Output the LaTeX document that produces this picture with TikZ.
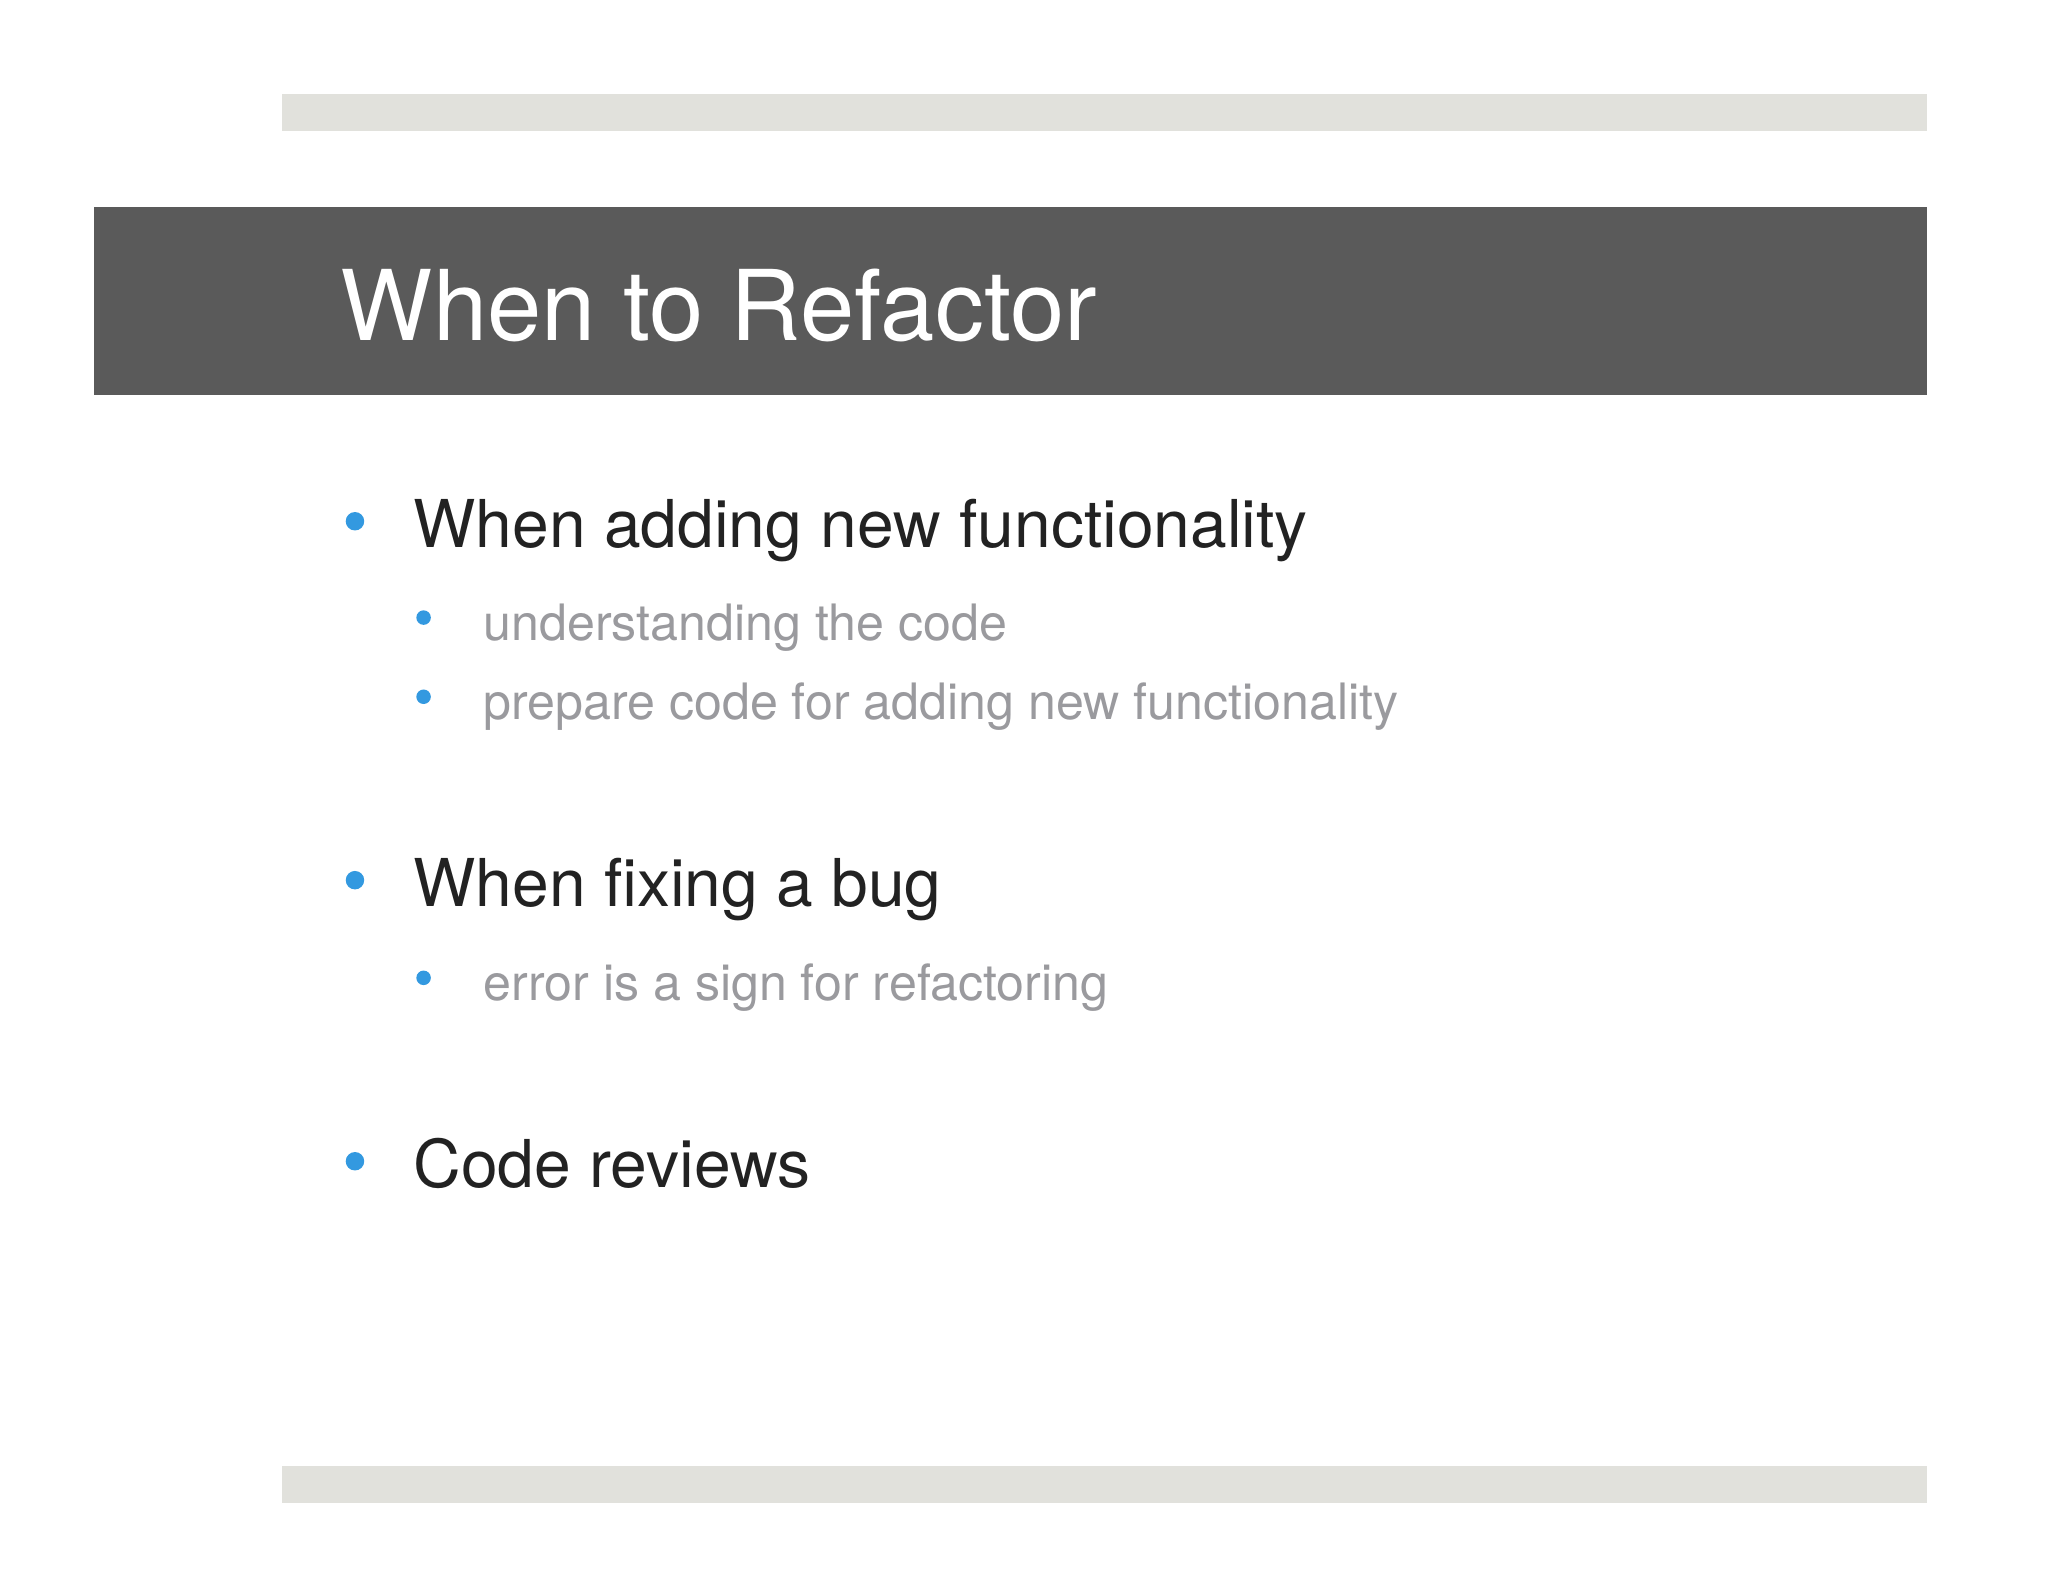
\documentclass[tikz,border=0pt]{standalone}
\usepackage{fontspec}
\setmainfont{TeX Gyre Heros}
\definecolor{barc}{HTML}{E1E1DC}
\definecolor{titlec}{HTML}{5A5A5A}
\definecolor{dotc}{HTML}{3399E0}
\definecolor{subc}{HTML}{9A9A9E}
\definecolor{mainc}{HTML}{222222}
\begin{document}
\begin{tikzpicture}[x=0.5pt,y=-0.5pt,
  lone/.style={anchor=base west,inner sep=0,text=mainc,font=\fontsize{25}{30}\selectfont},
  ltwo/.style={anchor=base west,inner sep=0,text=subc,font=\fontsize{19}{23}\selectfont},
  dotone/.style={circle,fill=dotc,inner sep=0,minimum size=7pt},
  dottwo/.style={circle,fill=dotc,inner sep=0,minimum size=5.5pt}]
\useasboundingbox[fill=white] (0,0) rectangle (1552,1200);
\fill[barc] (214,71) rectangle (1460,99);
\fill[barc] (214,1111) rectangle (1460,1139);
\fill[titlec] (71,157) rectangle (1460,299);
\node[anchor=base west,inner sep=0,text=white,font=\fontsize{37}{44}\selectfont] (title) at (258,258) {When to Refactor};
\node[dotone] (d1) at (269,395) {};
\node[lone] (t1) at (313,415) {When adding new functionality};
\node[dottwo] (d11) at (321,468) {};
\node[ltwo] (t11) at (366,485) {understanding the code};
\node[dottwo] (d12) at (321,528) {};
\node[ltwo] (t12) at (366,545) {prepare code for adding new functionality};
\node[dotone] (d2) at (269,667) {};
\node[lone] (t2) at (313,687) {When fixing a bug};
\node[dottwo] (d21) at (321,741) {};
\node[ltwo] (t21) at (366,758) {error is a sign for refactoring};
\node[dotone] (d3) at (269,880) {};
\node[lone] (t3) at (313,900) {Code reviews};
\end{tikzpicture}
\end{document}
